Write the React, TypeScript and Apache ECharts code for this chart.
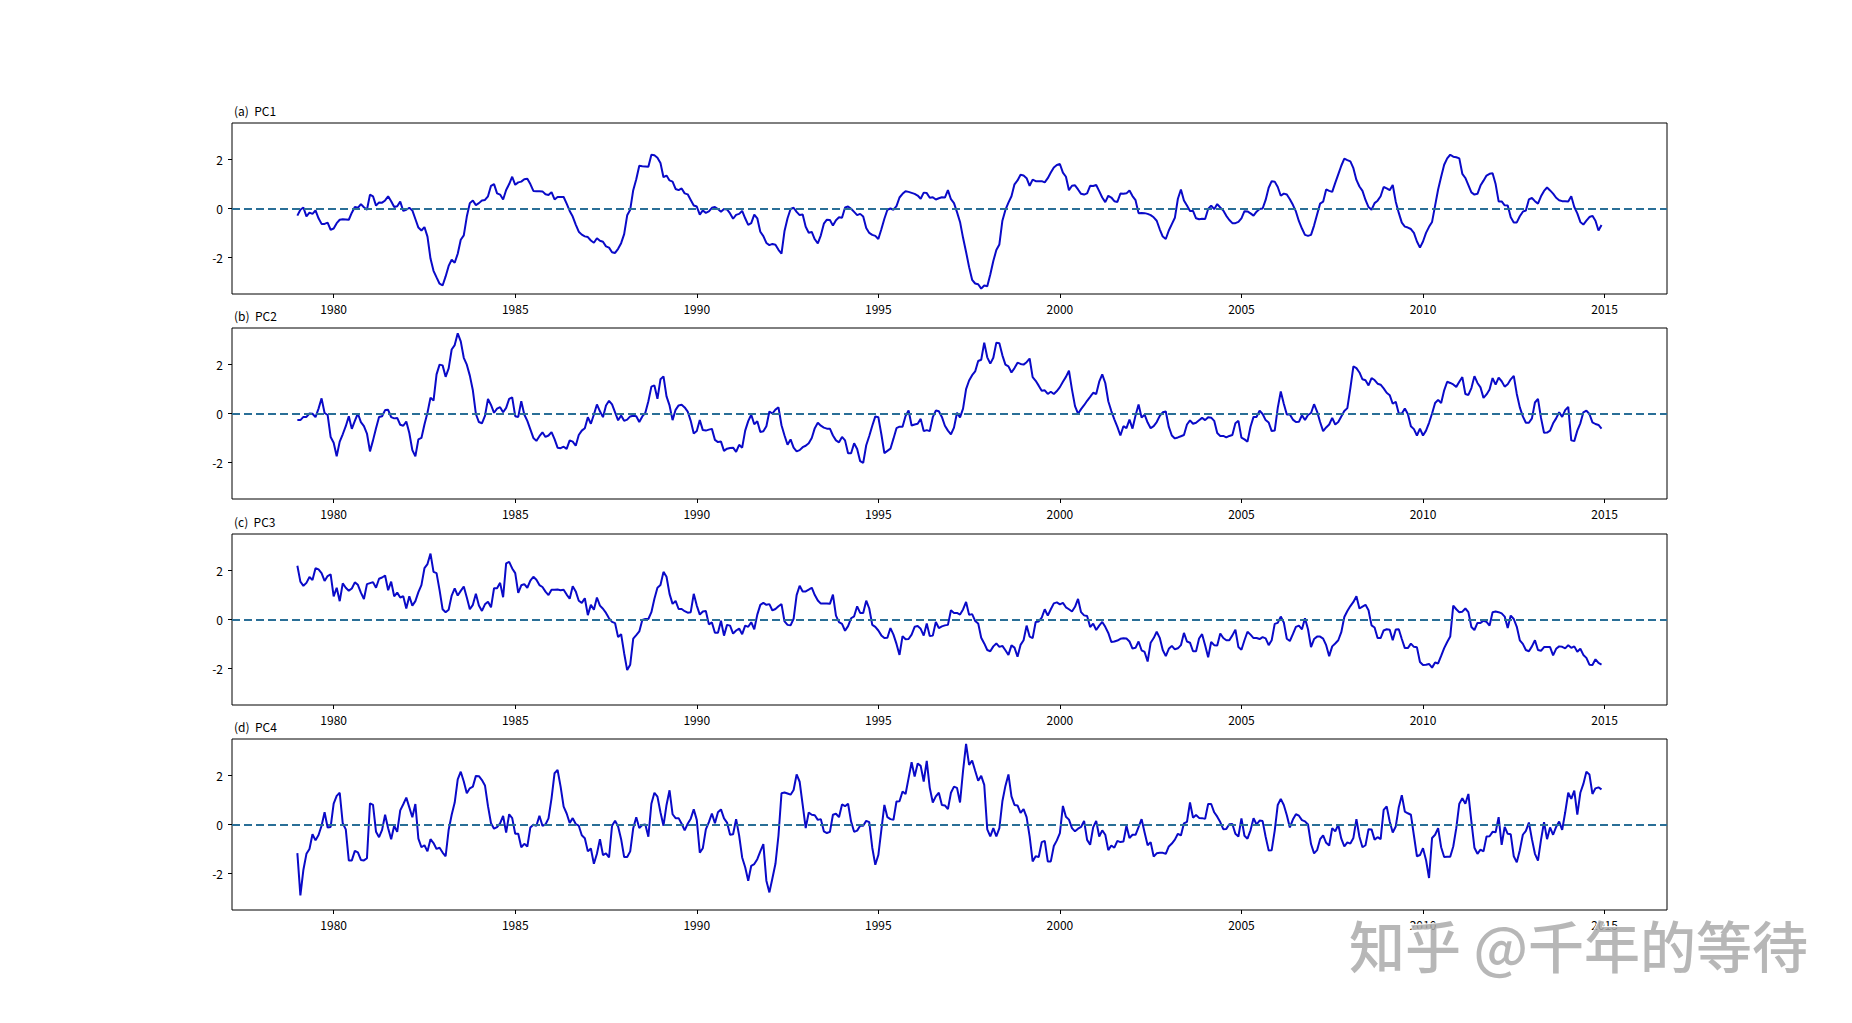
import React, { useEffect, useRef } from "react";
import * as echarts from "echarts";

// Monthly principal-component time series, Jan 1979 – Dec 2014
const START_YEAR = 1979;
const X_MIN = 1977.2;
const X_MAX = 2016.72;
const yearTicks = [1980, 1985, 1990, 1995, 2000, 2005, 2010, 2015];
const valueTicks = [-2, 0, 2];
const panelTitles = ["(a)  PC1", "(b)  PC2", "(c)  PC3", "(d)  PC4"];

const pc1 = [
  -0.29, -0.05, 0.04, -0.32, -0.17, -0.22, -0.08, -0.4, -0.63, -0.63, -0.58, -0.87,
  -0.82, -0.6, -0.46, -0.44, -0.45, -0.46, -0.17, 0.06, 0.03, 0.18, 0.05, -0.05,
  0.57, 0.5, 0.12, 0.25, 0.24, 0.33, 0.5, 0.3, 0.06, 0.09, 0.28, -0.1,
  -0.05, 0.03, -0.08, -0.43, -0.78, -0.9, -0.76, -1.15, -2.05, -2.55, -2.82, -3.08,
  -3.15, -2.78, -2.35, -2.1, -2.22, -1.85, -1.28, -1.1, -0.33, 0.22, 0.33, 0.14,
  0.22, 0.33, 0.35, 0.5, 0.93, 1.0, 0.62, 0.57, 0.37, 0.76, 1.0, 1.3,
  0.97, 1.07, 1.1, 1.2, 1.22, 1.0, 0.72, 0.71, 0.71, 0.7, 0.58, 0.55,
  0.67, 0.37, 0.47, 0.47, 0.47, 0.2, -0.1, -0.33, -0.66, -0.95, -1.07, -1.14,
  -1.17, -1.31, -1.4, -1.22, -1.32, -1.36, -1.55, -1.6, -1.79, -1.82, -1.65, -1.42,
  -1.05, -0.28, -0.05, 0.75, 1.2, 1.75, 1.73, 1.72, 1.71, 2.2, 2.18, 2.08,
  1.86, 1.28, 1.35, 1.15, 1.1, 0.8, 0.75, 0.82, 0.62, 0.58, 0.35, 0.12,
  0.08, -0.25, -0.08, -0.18, -0.12, 0.03, 0.06, -0.02, -0.13, -0.02, -0.04, -0.2,
  -0.42, -0.26, -0.22, -0.1, -0.4, -0.67, -0.6, -0.25, -0.4, -0.95, -1.13, -1.41,
  -1.5, -1.45, -1.48, -1.69, -1.85, -0.92, -0.4, -0.02, 0.03, -0.14, -0.27, -0.25,
  -0.75, -0.99, -0.96, -1.26, -1.43, -1.1, -0.62, -0.46, -0.47, -0.7, -0.48, -0.36,
  -0.38, 0.04, 0.08, -0.01, -0.14, -0.27, -0.22, -0.33, -0.8, -1.0, -1.08, -1.12,
  -1.25, -0.85, -0.42, -0.05, 0.0, -0.05, 0.1, 0.45, 0.6, 0.71, 0.68, 0.64,
  0.6, 0.53, 0.4, 0.65, 0.63, 0.44, 0.46, 0.37, 0.42, 0.46, 0.45, 0.75,
  0.38, 0.22, -0.15, -0.55, -1.2, -1.78, -2.4, -2.92, -3.07, -3.1, -3.28, -3.15,
  -3.18, -2.7, -2.15, -1.7, -1.47, -0.5, -0.06, 0.24, 0.5, 0.99, 1.15, 1.38,
  1.35, 1.24, 0.93, 1.18, 1.12, 1.12, 1.12, 1.07, 1.24, 1.47, 1.68, 1.78,
  1.82, 1.47, 1.3, 0.75, 0.93, 0.95, 0.78, 0.6, 0.57, 0.62, 0.93, 0.92,
  0.96, 0.71, 0.45, 0.26, 0.52, 0.45, 0.3, 0.27, 0.61, 0.6, 0.62, 0.74,
  0.51, 0.34, -0.19, -0.18, -0.19, -0.22, -0.27, -0.36, -0.5, -0.85, -1.15, -1.25,
  -0.9, -0.64, -0.38, 0.4, 0.78, 0.33, 0.12, -0.1, -0.1, -0.4, -0.44, -0.42,
  -0.43, -0.02, 0.12, -0.03, 0.18, 0.04, -0.08, -0.3, -0.47, -0.6, -0.6, -0.55,
  -0.4, -0.11, -0.12, -0.2, -0.29, -0.13, -0.02, 0.0, 0.35, 0.85, 1.12, 1.1,
  0.88, 0.52, 0.61, 0.57, 0.38, 0.15, -0.12, -0.52, -0.82, -1.08, -1.12, -1.08,
  -0.7, -0.25, 0.2, 0.28, 0.78, 0.72, 0.68, 1.05, 1.4, 1.75, 2.04, 1.98,
  1.93, 1.65, 1.17, 0.9, 0.72, 0.35, 0.06, -0.05, 0.22, 0.32, 0.5, 0.88,
  0.82, 0.75, 0.96, 0.28, -0.18, -0.58, -0.74, -0.78, -0.84, -1.0, -1.35, -1.6,
  -1.35, -1.0, -0.75, -0.55, 0.12, 0.78, 1.3, 1.79, 2.05, 2.2, 2.12, 2.1,
  2.05, 1.42, 1.25, 0.96, 0.66, 0.57, 0.6, 0.94, 1.14, 1.35, 1.42, 1.44,
  1.0, 0.29, 0.29, 0.13, 0.12, -0.36, -0.57, -0.57, -0.32, -0.13, -0.08, 0.37,
  0.43, 0.3, 0.2, 0.5, 0.72, 0.86, 0.74, 0.61, 0.44, 0.34, 0.3, 0.3,
  0.29, 0.5, 0.06, -0.2, -0.55, -0.66, -0.5, -0.35, -0.3, -0.5, -0.9, -0.68,
];

const pc2 = [
  -0.27, -0.27, -0.14, -0.14, 0.0, -0.01, -0.15, 0.2, 0.62, 0.02, -0.06, -0.96,
  -1.2, -1.75, -1.15, -0.85, -0.52, -0.11, -0.63, -0.3, 0.0, -0.35, -0.52, -0.82,
  -1.55, -1.1, -0.6, -0.14, -0.11, 0.14, 0.15, -0.15, -0.2, -0.18, -0.46, -0.5,
  -0.33, -0.8, -1.5, -1.75, -1.06, -1.0, -0.45, 0.03, 0.65, 0.53, 1.6, 2.0,
  1.97, 1.5, 1.85, 2.62, 2.8, 3.28, 2.95, 2.28, 2.0, 1.55, 0.95, -0.02,
  -0.35, -0.4, -0.1, 0.6, 0.35, 0.03, 0.2, 0.26, 0.05, 0.23, 0.6, 0.66,
  -0.11, -0.14, 0.5, -0.04, -0.3, -0.65, -1.0, -1.12, -0.93, -0.77, -0.96, -0.9,
  -0.76, -1.05, -1.4, -1.42, -1.36, -1.45, -1.1, -1.15, -1.32, -0.88, -0.7, -0.6,
  -0.15, -0.42, -0.04, 0.37, 0.09, -0.15, 0.33, 0.52, 0.37, 0.05, -0.28, -0.08,
  -0.3, -0.25, -0.12, -0.09, -0.11, -0.35, -0.12, 0.03, 0.5, 1.1, 1.15, 0.6,
  1.4, 1.52, 0.7, 0.33, -0.27, 0.15, 0.33, 0.36, 0.25, 0.08, -0.3, -0.82,
  -0.72, -0.27, -0.68, -0.7, -0.66, -0.63, -1.08, -1.17, -1.15, -1.53, -1.44, -1.41,
  -1.4, -1.57, -1.28, -1.4, -0.7, -0.31, -0.05, -0.44, -0.32, -0.76, -0.73, -0.52,
  0.08, 0.0, 0.16, 0.25, -0.48, -0.9, -1.28, -1.06, -1.4, -1.55, -1.5, -1.38,
  -1.32, -1.22, -1.0, -0.6, -0.38, -0.5, -0.58, -0.62, -0.62, -0.9, -1.1, -1.18,
  -0.96, -1.1, -1.63, -1.63, -1.22, -1.45, -1.95, -2.02, -1.3, -0.92, -0.5, -0.12,
  -0.15, -0.85, -1.62, -1.53, -1.44, -1.03, -0.6, -0.54, -0.54, -0.1, 0.12, -0.49,
  -0.45, -0.42, -0.22, -0.72, -0.68, -0.72, -0.15, 0.12, 0.09, -0.14, -0.5, -0.7,
  -0.85, -0.58, 0.03, -0.16, 0.2, 1.0, 1.35, 1.57, 1.72, 2.15, 2.2, 2.9,
  2.3, 2.04, 2.28, 2.9, 2.88, 2.38, 2.0, 1.93, 1.68, 1.86, 2.08, 2.03,
  2.0, 2.1, 2.25, 1.49, 1.34, 1.14, 0.93, 0.95, 0.8, 0.89, 0.8, 0.92,
  1.08, 1.3, 1.5, 1.75, 0.98, 0.3, -0.01, 0.18, 0.34, 0.52, 0.68, 0.85,
  0.8, 1.3, 1.6, 1.25, 0.5, 0.1, -0.24, -0.55, -0.9, -0.52, -0.6, -0.25,
  -0.62, -0.08, 0.37, -0.16, -0.05, -0.37, -0.6, -0.52, -0.35, -0.1, 0.05, 0.08,
  -0.55, -0.9, -1.02, -0.98, -0.93, -0.88, -0.45, -0.28, -0.42, -0.38, -0.28, -0.18,
  -0.27, -0.15, -0.17, -0.3, -0.8, -0.92, -0.92, -0.98, -0.92, -0.88, -0.4, -0.3,
  -0.99, -1.06, -1.15, -0.54, -0.14, -0.14, 0.12, -0.02, -0.27, -0.37, -0.72, -0.7,
  0.23, 0.9, 0.4, -0.04, -0.04, -0.25, -0.35, -0.34, -0.07, -0.27, -0.06, 0.02,
  0.38, 0.08, -0.35, -0.72, -0.57, -0.45, -0.18, -0.45, -0.35, -0.12, 0.1, 0.22,
  1.04, 1.93, 1.86, 1.68, 1.4, 1.36, 1.15, 1.45, 1.37, 1.22, 1.18, 1.03,
  0.85, 0.75, 0.4, 0.48, 0.0, 0.0, 0.2, -0.02, -0.52, -0.64, -0.9, -0.62,
  -0.9, -0.7, -0.38, 0.0, 0.43, 0.56, 0.43, 0.95, 1.3, 1.25, 1.19, 1.09,
  1.3, 1.49, 0.8, 0.76, 1.04, 1.53, 1.25, 1.07, 0.64, 0.78, 0.98, 1.45,
  1.18, 1.47, 1.32, 1.1, 1.2, 1.4, 1.54, 0.8, 0.25, -0.12, -0.38, -0.38,
  -0.2, 0.45, 0.6, -0.18, -0.79, -0.78, -0.7, -0.4, -0.2, 0.05, -0.14, 0.14,
  0.27, -1.1, -1.13, -0.7, -0.4, 0.05, 0.12, -0.02, -0.36, -0.43, -0.47, -0.62,
];

const pc3 = [
  2.2, 1.55, 1.38, 1.5, 1.74, 1.62, 2.1, 2.05, 1.9, 1.58, 1.78, 1.85,
  0.95, 1.3, 0.75, 1.48, 1.3, 1.18, 1.27, 1.52, 1.42, 1.1, 0.84, 1.45,
  1.49, 1.53, 1.3, 1.67, 1.72, 1.8, 1.2, 1.55, 0.95, 1.1, 0.9, 0.95,
  0.45, 0.95, 0.57, 0.75, 1.12, 1.41, 2.1, 2.27, 2.7, 1.95, 1.9, 1.2,
  0.42, 0.3, 0.4, 0.98, 1.27, 0.98, 1.17, 1.35, 0.9, 0.42, 0.6, 1.05,
  0.57, 0.35, 0.62, 0.73, 0.5, 1.28, 1.28, 1.5, 0.91, 2.3, 2.36, 2.09,
  1.9, 1.09, 1.4, 1.45, 1.3, 1.59, 1.75, 1.63, 1.41, 1.33, 1.14, 1.0,
  1.22, 1.22, 1.23, 1.2, 1.22, 1.02, 0.85, 1.36, 1.15, 0.77, 0.68, 0.87,
  0.18, 0.6, 0.4, 0.9, 0.57, 0.44, 0.27, 0.05, -0.1, -0.15, -0.72, -0.6,
  -1.38, -2.07, -1.85, -0.78, -0.64, -0.49, -0.02, 0.02, 0.02, 0.3, 0.85, 1.3,
  1.41, 1.95, 1.75, 1.05, 0.64, 0.76, 0.43, 0.43, 0.34, 0.28, 0.3, 1.05,
  0.57, 0.2, 0.33, 0.35, -0.2, -0.12, -0.54, -0.54, -0.05, -0.66, -0.22, -0.25,
  -0.58, -0.45, -0.37, -0.6, -0.25, -0.3, -0.11, -0.4, 0.2, 0.6, 0.68, 0.6,
  0.63, 0.37, 0.43, 0.54, 0.63, -0.08, -0.22, -0.24, 0.03, 1.0, 1.38, 1.15,
  1.15, 1.22, 1.3, 1.0, 0.78, 0.65, 0.66, 0.65, 0.64, 1.02, 0.16, -0.11,
  -0.18, -0.46, -0.27, 0.05, 0.13, 0.54, 0.27, 0.27, 0.77, 0.45, -0.22, -0.3,
  -0.45, -0.65, -0.76, -0.75, -0.35, -0.62, -1.0, -1.45, -0.68, -0.81, -0.8, -0.62,
  -0.3, -0.27, -0.38, -0.66, -0.16, -0.68, -0.66, -0.1, -0.35, -0.28, -0.24, -0.22,
  0.38, 0.27, 0.27, 0.2, 0.41, 0.72, 0.19, 0.22, -0.06, -0.16, -0.75, -0.98,
  -1.25, -1.3, -1.1, -0.98, -1.12, -1.08, -1.26, -1.45, -1.06, -1.15, -1.52, -1.04,
  -0.85, -0.25, -0.7, -0.76, -0.1, -0.08, 0.08, 0.42, 0.16, 0.42, 0.66, 0.7,
  0.62, 0.68, 0.5, 0.42, 0.33, 0.52, 0.84, 0.3, 0.17, 0.14, -0.31, -0.17,
  -0.43, -0.25, -0.1, -0.3, -0.55, -0.92, -0.9, -0.86, -0.79, -0.77, -0.78, -0.9,
  -1.19, -1.16, -0.9, -1.26, -1.33, -1.72, -0.95, -0.76, -0.5, -0.75, -1.25, -1.5,
  -1.2, -1.08, -1.22, -1.18, -1.05, -0.55, -0.9, -0.95, -1.3, -1.3, -0.78, -0.6,
  -1.05, -1.55, -0.92, -1.05, -1.06, -0.57, -0.76, -0.85, -0.85, -0.65, -0.42, -1.13,
  -1.24, -0.85, -0.5, -0.62, -0.76, -0.76, -0.8, -0.72, -0.77, -1.05, -0.85, -0.18,
  -0.14, 0.12, -0.12, -0.79, -0.88, -0.6, -0.3, -0.25, -0.4, 0.05, -0.4, -1.13,
  -0.8, -0.7, -0.7, -0.78, -1.05, -1.5, -1.1, -0.98, -0.85, -0.52, 0.1, 0.35,
  0.55, 0.72, 0.95, 0.45, 0.53, 0.6, 0.38, -0.24, -0.33, -0.76, -0.76, -0.45,
  -0.4, -0.42, -0.85, -0.41, -0.4, -0.8, -1.17, -1.17, -0.99, -1.12, -1.14, -1.74,
  -1.86, -1.85, -1.82, -1.97, -1.76, -1.8, -1.49, -1.17, -0.92, -0.7, 0.57, 0.42,
  0.3, 0.32, 0.45, 0.3, -0.31, -0.43, -0.14, -0.14, -0.05, -0.1, -0.25, 0.3,
  0.33, 0.3, 0.25, 0.12, -0.35, 0.16, 0.02, -0.3, -0.85, -1.0, -1.25, -1.3,
  -1.1, -0.85, -1.25, -1.28, -1.13, -1.13, -1.13, -1.47, -1.2, -1.1, -1.12, -1.18,
  -1.05, -1.16, -1.1, -1.32, -1.2, -1.45, -1.57, -1.85, -1.86, -1.63, -1.78, -1.85,
];

const pc4 = [
  -1.17, -2.9, -1.85, -1.2, -1.0, -0.4, -0.65, -0.43, -0.05, 0.5, -0.12, -0.1,
  0.85, 1.17, 1.3, 0.05, -0.2, -1.47, -1.47, -1.08, -1.14, -1.45, -1.47, -1.38,
  0.87, 0.8, -0.3, -0.52, -0.22, 0.4, -0.15, -0.6, -0.05, -0.3, 0.58, 0.83,
  1.1, 0.7, 0.3, 0.84, -0.58, -0.93, -0.85, -1.1, -0.6, -0.76, -1.0, -0.95,
  -1.15, -1.3, -0.22, 0.4, 0.9, 1.85, 2.16, 1.76, 1.28, 1.48, 1.55, 1.99,
  1.98, 1.82, 1.6, 0.75, 0.05, -0.17, -0.11, 0.05, 0.35, -0.33, 0.42, 0.26,
  -0.38, -0.38, -0.93, -0.79, -0.9, -0.12, -0.01, -0.05, 0.36, -0.05, 0.0, 0.25,
  1.07, 2.1, 2.23, 1.55, 0.73, 0.45, 0.06, 0.26, 0.02, -0.05, -0.44, -0.56,
  -1.1, -0.98, -1.61, -1.2, -0.6, -1.25, -1.18, -1.35, -0.05, 0.15, -0.08, -0.6,
  -1.33, -1.33, -1.1, -0.15, 0.3, -0.14, -0.02, 0.0, -0.5, 0.85, 1.3, 1.14,
  0.5, -0.05, 0.8, 1.4, 0.42, 0.26, 0.26, 0.03, -0.24, 0.03, 0.24, 0.62,
  0.19, -1.15, -0.97, -0.2, 0.1, 0.45, 0.05, 0.5, 0.62, 0.25, 0.08, -0.42,
  -0.4, 0.22, -0.45, -1.35, -1.75, -2.3, -1.69, -1.62, -1.42, -1.1, -0.8, -2.3,
  -2.78, -2.2, -1.61, -0.45, 1.28, 1.31, 1.27, 1.22, 1.41, 2.05, 1.75, 0.8,
  -0.15, 0.49, 0.4, 0.38, 0.19, 0.22, -0.28, -0.35, -0.3, 0.4, 0.44, 0.3,
  0.82, 0.75, 0.85, 0.12, -0.3, -0.25, -0.05, -0.05, 0.15, 0.1, -0.95, -1.65,
  -1.25, -0.22, 0.8, 0.3, 0.22, 0.19, 0.94, 0.95, 1.35, 1.25, 1.9, 2.55,
  1.96, 2.5, 2.4, 1.76, 2.6, 1.5, 0.9, 1.15, 1.3, 0.8, 0.78, 0.63,
  1.3, 1.55, 1.5, 0.9, 2.2, 3.3, 2.44, 2.62, 2.2, 1.79, 1.99, 1.62,
  -0.2, -0.49, -0.15, -0.49, -0.15, 0.95, 1.58, 2.05, 1.15, 0.8, 0.78, 0.48,
  0.63, 0.3, -0.49, -1.51, -1.3, -1.33, -0.72, -0.67, -1.51, -1.51, -0.88, -0.65,
  -0.35, 0.76, 0.32, 0.2, -0.15, -0.28, -0.17, -0.1, 0.15, -0.63, -0.83, -0.12,
  0.15, -0.49, -0.24, -0.42, -1.05, -0.86, -0.95, -0.67, -0.72, -0.7, -0.05, -0.55,
  -0.42, -0.42, -0.11, 0.22, -0.33, -0.85, -0.72, -1.31, -1.18, -1.16, -1.16, -1.2,
  -0.9, -0.78, -0.62, -0.38, -0.45, 0.05, 0.11, 0.9, 0.28, 0.39, 0.27, 0.26,
  0.23, 0.84, 0.84, 0.5, 0.32, 0.1, -0.19, -0.18, 0.01, 0.02, -0.38, -0.49,
  0.25, -0.46, -0.58, -0.24, 0.26, 0.0, 0.16, 0.14, -0.5, -1.06, -1.05, -0.25,
  0.8, 1.05, 0.8, 0.38, -0.12, 0.2, 0.42, 0.36, 0.18, 0.13, 0.0, -0.8,
  -1.18, -1.05, -0.6, -0.45, -0.75, -0.86, -0.15, -0.28, -0.01, -0.58, -0.9, -0.73,
  -0.78, -0.55, 0.22, -0.5, -0.93, -0.85, -0.19, -0.2, -0.62, -0.52, -0.6, 0.6,
  0.74, 0.12, -0.33, -0.08, 0.71, 1.2, 0.53, 0.46, 0.4, -0.45, -1.3, -1.25,
  -0.97, -1.45, -2.19, -0.55, -0.42, -0.15, -0.93, -1.33, -1.32, -1.32, -0.9, -0.15,
  0.85, 1.07, 0.85, 1.25, 0.12, -0.95, -1.2, -1.03, -1.1, -0.49, -0.48, -0.3,
  -0.32, 0.3, -0.83, -0.1, -0.38, -0.4, -1.3, -1.55, -1.05, -0.42, -0.26, 0.08,
  -0.6, -1.2, -1.48, -0.63, 0.1, -0.6, -0.12, -0.42, -0.1, 0.12, -0.22, 0.5,
  1.3, 1.05, 1.39, 0.4, 1.3, 1.66, 2.16, 2.05, 1.25, 1.48, 1.52, 1.44,
];

const seriesValues = [pc1, pc2, pc3, pc4];

const FONT = '"Noto Sans CJK SC", "Liberation Sans", sans-serif';
const LINE_COLOR = "#0a0ac8";
const ZERO_COLOR = "#2a6f97";
const GRID_LEFT = 232;
const GRID_WIDTH = 1435;
const GRID_HEIGHT = 171;
const GRID_TOPS = [123, 328, 534, 739];

function toPoints(values: number[]) {
  return values.map((v, i) => [START_YEAR + i / 12, v]);
}

export default function App() {
  const ref = useRef<HTMLDivElement>(null);

  useEffect(() => {
    if (!ref.current) return;
    const chart = echarts.init(ref.current, null, { renderer: "svg" });

    const labelStyle = { color: "#000", fontSize: 12, fontFamily: FONT };

    chart.setOption({
      animation: false,
      backgroundColor: "#ffffff",
      title: panelTitles.map((t, k) => ({
        text: t,
        left: GRID_LEFT + 2,
        top: GRID_TOPS[k] - 19,
        padding: 0,
        textStyle: { ...labelStyle, fontWeight: "normal" },
      })),
      grid: GRID_TOPS.map((top) => ({
        left: GRID_LEFT,
        top,
        width: GRID_WIDTH,
        height: GRID_HEIGHT,
        show: true,
        borderColor: "#000",
        borderWidth: 1,
        backgroundColor: "transparent",
        containLabel: false,
      })),
      xAxis: GRID_TOPS.map((_, k) => ({
        type: "value",
        gridIndex: k,
        min: X_MIN,
        max: X_MAX,
        axisLine: { show: false, onZero: false },
        axisTick: {
          show: true,
          length: 4,
          lineStyle: { color: "#000", width: 1 },
          customValues: yearTicks,
        },
        axisLabel: {
          ...labelStyle,
          margin: 8,
          customValues: yearTicks,
          formatter: (v: number) => String(Math.round(v)),
        },
        splitLine: { show: false },
      })),
      yAxis: GRID_TOPS.map((_, k) => ({
        type: "value",
        gridIndex: k,
        min: -3.5,
        max: 3.5,
        axisLine: { show: false, onZero: false },
        axisTick: {
          show: true,
          length: 4,
          lineStyle: { color: "#000", width: 1 },
          customValues: valueTicks,
        },
        axisLabel: {
          ...labelStyle,
          margin: 9,
          customValues: valueTicks,
          formatter: (v: number) => (v < 0 ? "-" + Math.abs(v) : String(v)),
        },
        splitLine: { show: false },
      })),
      series: seriesValues.map((vals, k) => ({
        type: "line",
        xAxisIndex: k,
        yAxisIndex: k,
        data: toPoints(vals),
        symbol: "none",
        showSymbol: false,
        lineStyle: { color: LINE_COLOR, width: 2 },
        markLine: {
          silent: true,
          symbol: ["none", "none"],
          label: { show: false },
          lineStyle: { color: ZERO_COLOR, width: 2, type: [8, 4] },
          data: [{ yAxis: 0 }],
        },
      })),
      graphic: [
        {
          type: "text",
          left: 1348,
          top: 914,
          z: 100,
          style: {
            text: "知乎 @千年的等待",
            font: `500 56px ${FONT}`,
            fill: "rgba(170,170,170,0.85)",
            stroke: "rgba(255,255,255,0.9)",
            lineWidth: 2,
          },
        },
      ],
    });

    return () => chart.dispose();
  }, []);

  return (
    <div
      ref={ref}
      style={{ position: "fixed", left: 0, top: 0, width: 1852, height: 1023 }}
    />
  );
}
